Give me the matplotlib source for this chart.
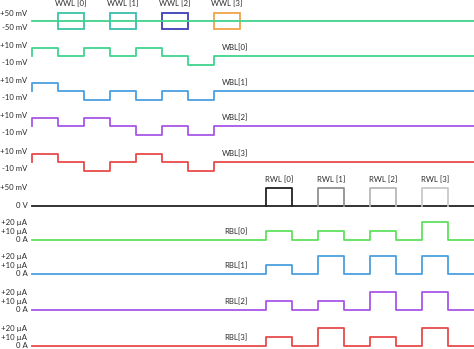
import numpy as np
import matplotlib
matplotlib.use('Agg')
import matplotlib.pyplot as plt
from matplotlib.patches import Rectangle

plt.rcParams['font.family'] = ['Lato', 'DejaVu Sans']

# time is counted in slots, 17 slots across the page
n_slots = 17

# write word lines: pulse start slots, +/-50 mV
wwl_names = ['WWL [0]', 'WWL [1]', 'WWL [2]', 'WWL [3]']
wwl_start = [1, 3, 5, 7]
wwl_amp = 50

# write bit lines (mV per slot)
wbl_names = ['WBL[0]', 'WBL[1]', 'WBL[2]', 'WBL[3]']
wbl0 = [10, 0, 10, 0, 10, 0, -10, 0, 0, 0, 0, 0, 0, 0, 0, 0, 0]
wbl1 = [10, 0, -10, 0, -10, 0, -10, 0, 0, 0, 0, 0, 0, 0, 0, 0, 0]
wbl2 = [10, 0, 10, 0, -10, 0, -10, 0, 0, 0, 0, 0, 0, 0, 0, 0, 0]
wbl3 = [10, 0, -10, 0, 10, 0, -10, 0, 0, 0, 0, 0, 0, 0, 0, 0, 0]

# read word lines
rwl_names = ['RWL [0]', 'RWL [1]', 'RWL [2]', 'RWL [3]']
rwl_start = [9, 11, 13, 15]
rwl_amp = 50

# read bit lines (uA per slot)
rbl_names = ['RBL[0]', 'RBL[1]', 'RBL[2]', 'RBL[3]']
rbl0 = [0, 0, 0, 0, 0, 0, 0, 0, 0, 10, 0, 10, 0, 10, 0, 20, 0]
rbl1 = [0, 0, 0, 0, 0, 0, 0, 0, 0, 10, 0, 20, 0, 20, 0, 20, 0]
rbl2 = [0, 0, 0, 0, 0, 0, 0, 0, 0, 10, 0, 10, 0, 20, 0, 20, 0]
rbl3 = [0, 0, 0, 0, 0, 0, 0, 0, 0, 10, 0, 20, 0, 10, 0, 20, 0]

green = '#3fd38e'
colors = ['#3fd38e', '#4a9fe0', '#a856e6', '#e84a4a']
rbl_colors = ['#5fe05f', '#4a9fe0', '#a856e6', '#e84a4a']
wwl_box_colors = ['#3cc4a4', '#3cbcae', '#3f3fb8', '#f0a448']
rwl_colors = ['#222222', '#909090', '#b8b8b8', '#c8c8c8']

W, H = 474, 349
x0 = 32
fig = plt.figure(figsize=(W / 100, H / 100), dpi=100)
fs = 5.6
lw = 1.3
tc = '#2a2a2a'


def band(zero_px, ppu, up=26, down=12):
    top, bot = zero_px - up, zero_px + down
    ax = fig.add_axes([x0 / W, 1 - bot / H, (W - x0) / W, (bot - top) / H])
    ax.set_xlim(0, n_slots)
    ax.set_ylim(-down / ppu, up / ppu)
    ax.axis('off')
    return ax


def left_label(ax, y, s, dy=0):
    ax.annotate(s, xy=(0, y), xytext=(-3.4, dy), textcoords='offset points',
                ha='right', va='center', fontsize=fs, color=tc)


def steps(ax, vals, color):
    x = np.r_[0, np.arange(n_slots + 1)]
    y = np.r_[0, vals, vals[-1]]
    ax.plot(x, y, drawstyle='steps-post', color=color, lw=lw, clip_on=False)


# WWL
ax = band(21, 8 / 50)
ax.plot([0, n_slots], [0, 0], color=green, lw=lw, clip_on=False)
for name, s, c in zip(wwl_names, wwl_start, wwl_box_colors):
    ax.add_patch(Rectangle((s, -wwl_amp), 1, 2 * wwl_amp, fill=False,
                           edgecolor=c, lw=lw, clip_on=False))
    ax.annotate(name, xy=(s + 0.5, wwl_amp), xytext=(0, 3.8), textcoords='offset points',
                ha='center', va='bottom', fontsize=fs, color=tc)
left_label(ax, 50, '+50 mV')
left_label(ax, -50, '-50 mV', dy=1)

# WBL
for name, vals, c, z in zip(wbl_names, [wbl0, wbl1, wbl2, wbl3], colors, [56, 91, 126, 162]):
    ax = band(z, 8.5 / 10)
    steps(ax, vals, c)
    ax.annotate(name, xy=(7.3, 0), xytext=(0, 3.6), textcoords='offset points',
                ha='left', va='bottom', fontsize=fs, color=tc)
    left_label(ax, 10, '+10 mV', dy=1.5)
    left_label(ax, -10, '-10 mV', dy=1.5)

# RWL
ax = band(206, 18 / 50, up=30)
ax.plot([0, n_slots], [0, 0], color='#222222', lw=lw, clip_on=False)
for name, s, c in zip(rwl_names, rwl_start, rwl_colors):
    ax.plot([s, s, s + 1, s + 1], [0, rwl_amp, rwl_amp, 0], color=c, lw=lw, clip_on=False)
    ax.annotate(name, xy=(s + 0.5, rwl_amp), xytext=(0, 3.3), textcoords='offset points',
                ha='center', va='bottom', fontsize=fs, color=tc)
left_label(ax, 50, '+50 mV')
left_label(ax, 0, '0 V')

# RBL
for name, vals, c, z in zip(rbl_names, [rbl0, rbl1, rbl2, rbl3], rbl_colors, [240, 274, 310, 346]):
    ax = band(z, 8.8 / 10)
    steps(ax, vals, c)
    ax.annotate(name, xy=(7.4, 10), xytext=(0, 0), textcoords='offset points',
                ha='left', va='center', fontsize=fs, color=tc)
    left_label(ax, 20, '+20 µA')
    left_label(ax, 10, '+10 µA')
    left_label(ax, 0, '0 A')

fig.savefig('out.png', dpi=100)
